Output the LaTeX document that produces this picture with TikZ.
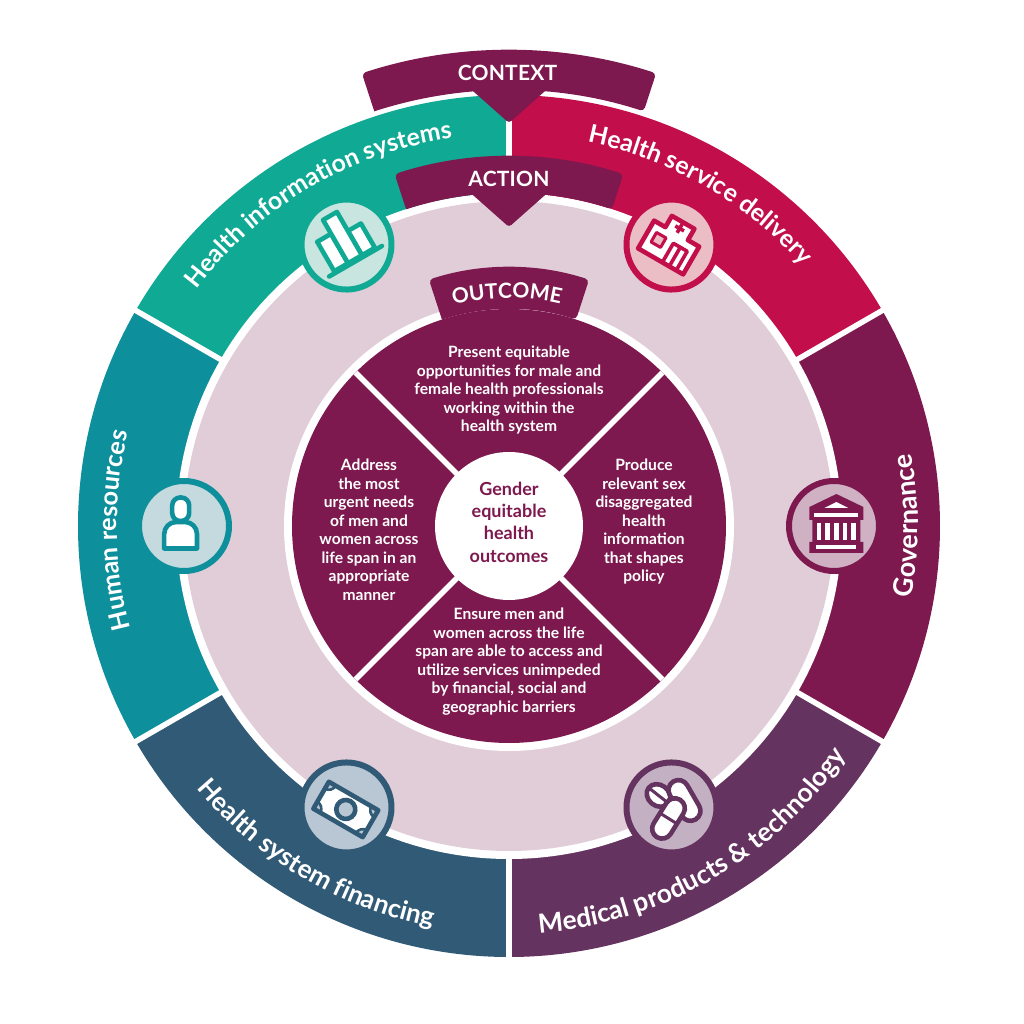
\documentclass[tikz,border=0pt]{standalone}
\usepackage{fontspec}
\setmainfont{Lato}
\newfontfamily\capfont[LetterSpace=1]{Lato Bold}
\newfontfamily\arccapfont[LetterSpace=7.5]{Lato Bold}
\usetikzlibrary{decorations.text}
\definecolor{segGreen}{RGB}{16,170,148}
\definecolor{segRed}{RGB}{194,14,74}
\definecolor{segPlum}{RGB}{125,25,78}
\definecolor{segPurple}{RGB}{101,51,95}
\definecolor{segNavy}{RGB}{48,90,117}
\definecolor{segTeal}{RGB}{14,143,156}
\definecolor{ringPink}{RGB}{225,205,216}
\definecolor{iconGreen}{RGB}{201,229,223}
\definecolor{iconRed}{RGB}{235,189,197}
\definecolor{iconPlum}{RGB}{207,177,195}
\definecolor{iconPurple}{RGB}{195,177,195}
\definecolor{iconNavy}{RGB}{185,198,212}
\definecolor{iconTeal}{RGB}{197,218,223}
\begin{document}
\begin{tikzpicture}[x=1pt,y=1pt,line join=round,
    sepline/.style={white,line width=5.5pt},
    segtext/.style 2 args={decorate,decoration={text along path,text align=center,text={|\fontsize{#1}{#1}\selectfont\bfseries\color{white}|#2}}},
    bodytext/.style={text=white,align=center,font=\fontsize{15.6}{18.5}\selectfont\bfseries},
    captext/.style={text=white,font=\fontsize{21}{21}\capfont},
    iconring/.style={line width=6pt,draw=#1},
    icon/.style={line width=4.6pt,draw=#1}]
    \tikzstyle{every node}+=[inner sep=0pt]
    \useasboundingbox (-509,-498) rectangle (515,526);
    % outer ring
    \fill [segGreen] (0,0) -- (150:431) arc[start angle=150,end angle=90,radius=431] -- cycle;
    \fill [segRed] (0,0) -- (90:431) arc[start angle=90,end angle=30,radius=431] -- cycle;
    \fill [segPlum] (0,0) -- (30:431) arc[start angle=30,end angle=-30,radius=431] -- cycle;
    \fill [segPurple] (0,0) -- (-30:431) arc[start angle=-30,end angle=-90,radius=431] -- cycle;
    \fill [segNavy] (0,0) -- (-90:431) arc[start angle=-90,end angle=-150,radius=431] -- cycle;
    \fill [segTeal] (0,0) -- (-150:431) arc[start angle=-150,end angle=-210,radius=431] -- cycle;
    \draw [sepline] (0,0) -- (90:433);
    \draw [sepline] (0,0) -- (30:433);
    \draw [sepline] (0,0) -- (-30:433);
    \draw [sepline] (0,0) -- (-90:433);
    \draw [sepline] (0,0) -- (-150:433);
    \draw [sepline] (0,0) -- (150:433);
    % inner rings
    \fill [white] (0,0) circle (333);
    \fill [ringPink] (0,0) circle (325);
    \fill [white] (0,0) circle (225);
    \fill [segPlum] (0,0) circle (217);
    \draw [sepline] (45:-217) -- (45:217);
    \draw [sepline] (135:-217) -- (135:217);
    \fill [white] (0,0) circle (74);
    % banners
    \fill [segPlum] (108:436) [rounded corners=4pt] -- (108:476) arc[start angle=108,end angle=72,radius=476] -- (72:436) [sharp corners] arc[start angle=72,end angle=108,radius=436] -- cycle;
    \fill [segPlum,rounded corners=3pt] (-44,442) -- (0,403) -- (44,442) -- cycle;
    \fill [segPlum] (108:333) [rounded corners=4pt] -- (108:370) arc[start angle=108,end angle=72,radius=370] -- (72:333) [sharp corners] arc[start angle=72,end angle=108,radius=333] -- cycle;
    \fill [segPlum,rounded corners=3pt] (-44,338) -- (0,299) -- (44,338) -- cycle;
    \fill [segPlum] (108:217) [rounded corners=4pt] -- (108:259) arc[start angle=108,end angle=72,radius=259] -- (72:217) [sharp corners] arc[start angle=72,end angle=108,radius=217] -- cycle;
    \node [captext] (context) at (-1.5,453) {CONTEXT};
    \node [captext] (action) at (0,347) {ACTION};
    \path [decorate,decoration={text along path,text align=center,text={|\fontsize{21}{21}\arccapfont\color{white}|OUTCOME}}] (120.5:228) arc[start angle=120.5,end angle=60.5,radius=228];
    % ring labels
    \path [segtext={24.8}{Health information systems}] (150.6:392) arc[start angle=150.6,end angle=90.6,radius=392];
    \path [segtext={24.8}{Health service delivery}] (90:392) arc[start angle=90,end angle=30,radius=392];
    \path [segtext={27}{Governance}] (-30:409) arc[start angle=-30,end angle=30,radius=409];
    \path [segtext={26.4}{Medical products {\&} technology}] (-90:408) arc[start angle=-90,end angle=-30,radius=408];
    \path [segtext={26}{Health system financing}] (209.6:408) arc[start angle=209.6,end angle=269.6,radius=408];
    \path [segtext={25.4}{Human resources}] (210.6:392) arc[start angle=210.6,end angle=150.6,radius=392];
    % wedge texts
    \node [bodytext] (presenttext) at (0,135.5) {Present equitable\\opportunities for male and\\female health professionals\\working within the\\health system};
    \node [bodytext] (producetext) at (135,4) {Produce\\relevant sex\\disaggregated\\health\\information\\that shapes\\policy};
    \node [bodytext] (ensuretext) at (0,-135.5) {Ensure men and\\women across the life\\span are able to access and\\utilize services unimpeded\\by financial, social and\\geographic barriers};
    \node [bodytext] (addresstext) at (-140,-4) {Address\\the most\\urgent needs\\of men and\\women across\\life span in an\\appropriate\\manner};
    \node [align=center,text=segPlum,font=\fontsize{18}{22.3}\selectfont\bfseries] (gendertext) at (0,4) {Gender\\equitable\\health\\outcomes};
    % chart icon
    \begin{scope}[shift={(120:325)},rotate=30]
        \draw [iconring=segGreen,fill=iconGreen] (0,0) circle (45);
        \draw [icon=segGreen,fill=white] (-24,-17) rectangle (-8,17);
        \draw [icon=segGreen,fill=white] (8,-17) rectangle (23,11);
        \draw [icon=segGreen,fill=white] (-8,-17) rectangle (8,33);
        \draw [icon=segGreen,line cap=round] (-31,-19) -- (30,-19);
    \end{scope}
    % hospital icon
    \begin{scope}[shift={(60:325)},rotate=-30]
        \draw [iconring=segRed,fill=iconRed] (0,0) circle (45);
        \draw [icon=segRed,fill=white] (-27,-20) -- (-27,12) -- (-14,12) -- (-14,25) -- (12,25) -- (12,12) -- (25,12) -- (25,-20) -- cycle;
        \draw [segRed,line width=3pt,fill=iconRed] (-19,-8) rectangle (-8,3);
        \draw [segRed,line width=3.6pt] (1,-20) -- (1,2) -- (17,2) -- (17,-20);
        \draw [segRed,line width=3.6pt] (9,-20) -- (9,2);
        \draw [segRed,line width=3.6pt] (-6,18) -- (4,18);
        \draw [segRed,line width=3.6pt] (-1,13) -- (-1,23);
    \end{scope}
    % bank icon
    \begin{scope}[shift={(0:325)}]
        \draw [iconring=segPlum,fill=iconPlum] (0,0) circle (45);
        \begin{scope}[shift={(2.4,0)}]
            \fill [segPlum] (-27,6) -- (-27,19) -- (0,32) -- (27,19) -- (27,6) -- (24,6) -- (24,-16) -- (27,-16) -- (27,-27) -- (-27,-27) -- (-27,-16) -- (-24,-16) -- (-24,6) -- cycle;
            \fill [white] (0,24) -- (12,18) -- (-12,18) -- cycle;
            \fill [white] (-22,8.5) rectangle (22,13);
            \fill [white] (-20,-19) rectangle (20,-23);
            \fill [white] (-19.5,3) rectangle (-15,-14);
            \fill [white] (-11,3) rectangle (-6.5,-14);
            \fill [white] (-2.3,3) rectangle (2.3,-14);
            \fill [white] (6.5,3) rectangle (11,-14);
            \fill [white] (15,3) rectangle (19.5,-14);
        \end{scope}
    \end{scope}
    % pills icon
    \begin{scope}[shift={(-60:325)}]
        \draw [iconring=segPurple,fill=iconPurple] (0,0) circle (45);
        \draw [icon=segPurple,fill=white,rotate around={-38:(-13,12)}] (-13,12) ellipse (12.5 and 10.5);
        \draw [segPurple,line width=3pt,rotate around={-38:(-13,12)}] (-25,12) -- (-1,12);
        \draw [icon=segPurple,fill=white,rounded corners=10pt,rotate around={-60:(13,7)}] (-9,-3) rectangle (35,17);
        \draw [icon=segPurple,fill=white,rounded corners=10pt,rotate around={58:(-3,-11)}] (-25,-21) rectangle (19,-1);
        \draw [segPurple,line width=3pt,rotate around={58:(-3,-11)}] (-3,-21) -- (-3,-1);
    \end{scope}
    % banknote icon
    \begin{scope}[shift={(-120:325)}]
        \draw [iconring=segNavy,fill=iconNavy] (0,0) circle (45);
        \begin{scope}[shift={(-0.7,-2)},rotate=-30]
            \fill [white] (-28.5,-15.5) rectangle (28.5,15.5);
            \begin{scope}
                \clip (-28.5,-15.5) rectangle (28.5,15.5);
                \draw [segNavy,line width=2.6pt,fill=iconNavy] (-28.5,-15.5) circle (8);
                \draw [segNavy,line width=2.6pt,fill=iconNavy] (28.5,-15.5) circle (8);
                \draw [segNavy,line width=2.6pt,fill=iconNavy] (-28.5,15.5) circle (8);
                \draw [segNavy,line width=2.6pt,fill=iconNavy] (28.5,15.5) circle (8);
            \end{scope}
            \draw [icon=segNavy] (-28.5,-15.5) rectangle (28.5,15.5);
            \draw [icon=segNavy,fill=iconNavy] (0,0) circle (9.5);
        \end{scope}
    \end{scope}
    % person icon
    \begin{scope}[shift={(180:325)}]
        \draw [iconring=segTeal,fill=iconTeal] (0,0) circle (45);
        \draw [icon=segTeal,fill=white,rounded corners=8pt] (-11.8,5) rectangle (5.2,28.5);
        \draw [icon=segTeal,fill=white] (-19.8,-22.5) -- (-19.8,-8) arc[start angle=180,end angle=90,radius=12] -- (1,4) arc[start angle=90,end angle=0,radius=12] -- (13,-22.5) -- cycle;
    \end{scope}
\end{tikzpicture}
\end{document}
